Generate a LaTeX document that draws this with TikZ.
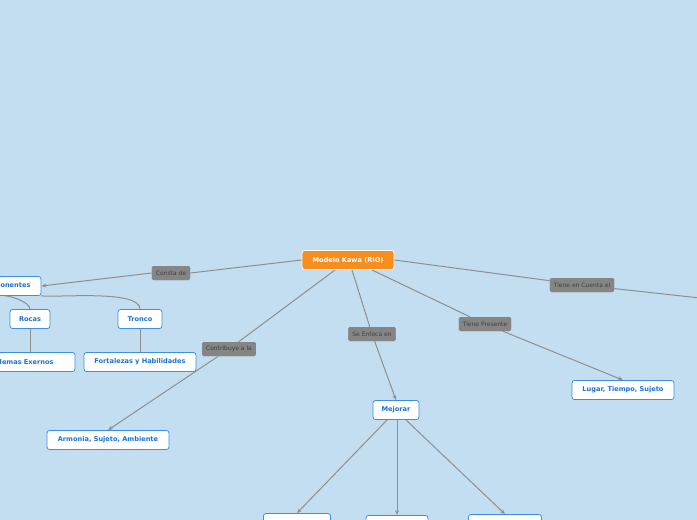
\documentclass[tikz,border=0pt]{standalone}
\usepackage{fontspec}
\setmainfont{DejaVu Sans}
\usetikzlibrary{arrows.meta}
\definecolor{bg}{HTML}{C3DEF1}
\definecolor{tb}{HTML}{1B72D8}
\definecolor{bd}{HTML}{3C8EE6}
\definecolor{org}{HTML}{F68E1F}
\definecolor{lab}{HTML}{858585}
\definecolor{ln}{HTML}{8F8F8F}
\begin{document}
\begin{tikzpicture}[x=1pt,y=-1pt,
  topic/.style={draw=bd,fill=white,rounded corners=2.5pt,line width=0.8pt,text=tb,font=\fontsize{6.6}{7}\selectfont\bfseries,minimum height=19,inner xsep=0,text width=#1,align=center},
  mainbox/.style={draw=white,fill=org,rounded corners=2.5pt,line width=0.8pt,text=white,font=\fontsize{6.6}{7}\selectfont\bfseries,minimum height=19,minimum width=92},
  lbl/.style={fill=lab,rounded corners=1.5pt,text=black!75,font=\fontsize{6}{7}\selectfont,minimum height=14,inner xsep=4},
  con/.style={draw=ln,line width=1pt},
  arr/.style={con,-{Stealth[length=5pt,width=4pt]}}]
\useasboundingbox (0,0) rectangle (697,520);
\fill[bg] (0,0) rectangle (697,520);
\begin{scope}
\clip (0,0) rectangle (697,520);
\node[mainbox] (main) at (348,260) {Modelo Kawa (RIO)};
\node[topic=72] (comp) at (5,286) {Componentes};
\node[topic=40] (rocas) at (30,319) {Rocas};
\node[topic=44] (tronco) at (140,319) {Tronco};
\node[topic=114] (prob) at (18,362) {Problemas Exernos};
\node[topic=112] (fort) at (140,362) {Fortalezas y Habilidades};
\node[topic=122] (arm) at (108,440) {Armonia, Sujeto, Ambiente};
\node[topic=46] (mej) at (396,410) {Mejorar};
\node[topic=102] (lug) at (623,390) {Lugar, Tiempo, Sujeto};
\node[topic=67] (b1) at (297,523) {};
\node[topic=62] (b2) at (397,525) {};
\node[topic=73] (b3) at (505,524) {};
\coordinate (off) at (700,298);
\coordinate (m1) at (387,420);
\coordinate (m2) at (397,420);
\coordinate (m3) at (406,420);
\node[lbl] (l1) at (171,273) {Consta de};
\node[lbl] (l2) at (229,349) {Contribuye a la};
\node[lbl] (l3) at (372,334) {Se Enfoca en};
\node[lbl] (l4) at (485,324) {Tiene Presente};
\node[lbl] (l5) at (582,285) {Tiene en Cuenta el};
\draw[con] (main.west) -- (l1.east);
\draw[arr] (l1.west) -- (comp.east);
\draw[con] (comp.south) to[out=0,in=90,looseness=0.6] (rocas.north);
\draw[con] (comp.south east) to[out=-5,in=90,looseness=0.5] (tronco.north);
\draw[con] (rocas.south) -- (rocas.south |- prob.north);
\draw[con] (tronco) -- (fort);
\draw[con] (335,270) -- (l2);
\draw[arr] (l2) -- (arm.north);
\draw[con] (352,270) -- (l3);
\draw[arr] (l3) -- (mej.north);
\draw[con] (372,270) -- (l4);
\draw[arr] (l4) -- (lug.north);
\draw[con] (main.east) -- (l5);
\draw[con] (l5) -- (off);
\draw[arr] (m1) -- (b1.north);
\draw[arr] (m2) -- (b2.north);
\draw[arr] (m3) -- (b3.north);
\node[lbl] at (l1) {Consta de};
\node[lbl] at (l2) {Contribuye a la};
\node[lbl] at (l3) {Se Enfoca en};
\node[lbl] at (l4) {Tiene Presente};
\node[lbl] at (l5) {Tiene en Cuenta el};
\end{scope}
\end{tikzpicture}
\end{document}
